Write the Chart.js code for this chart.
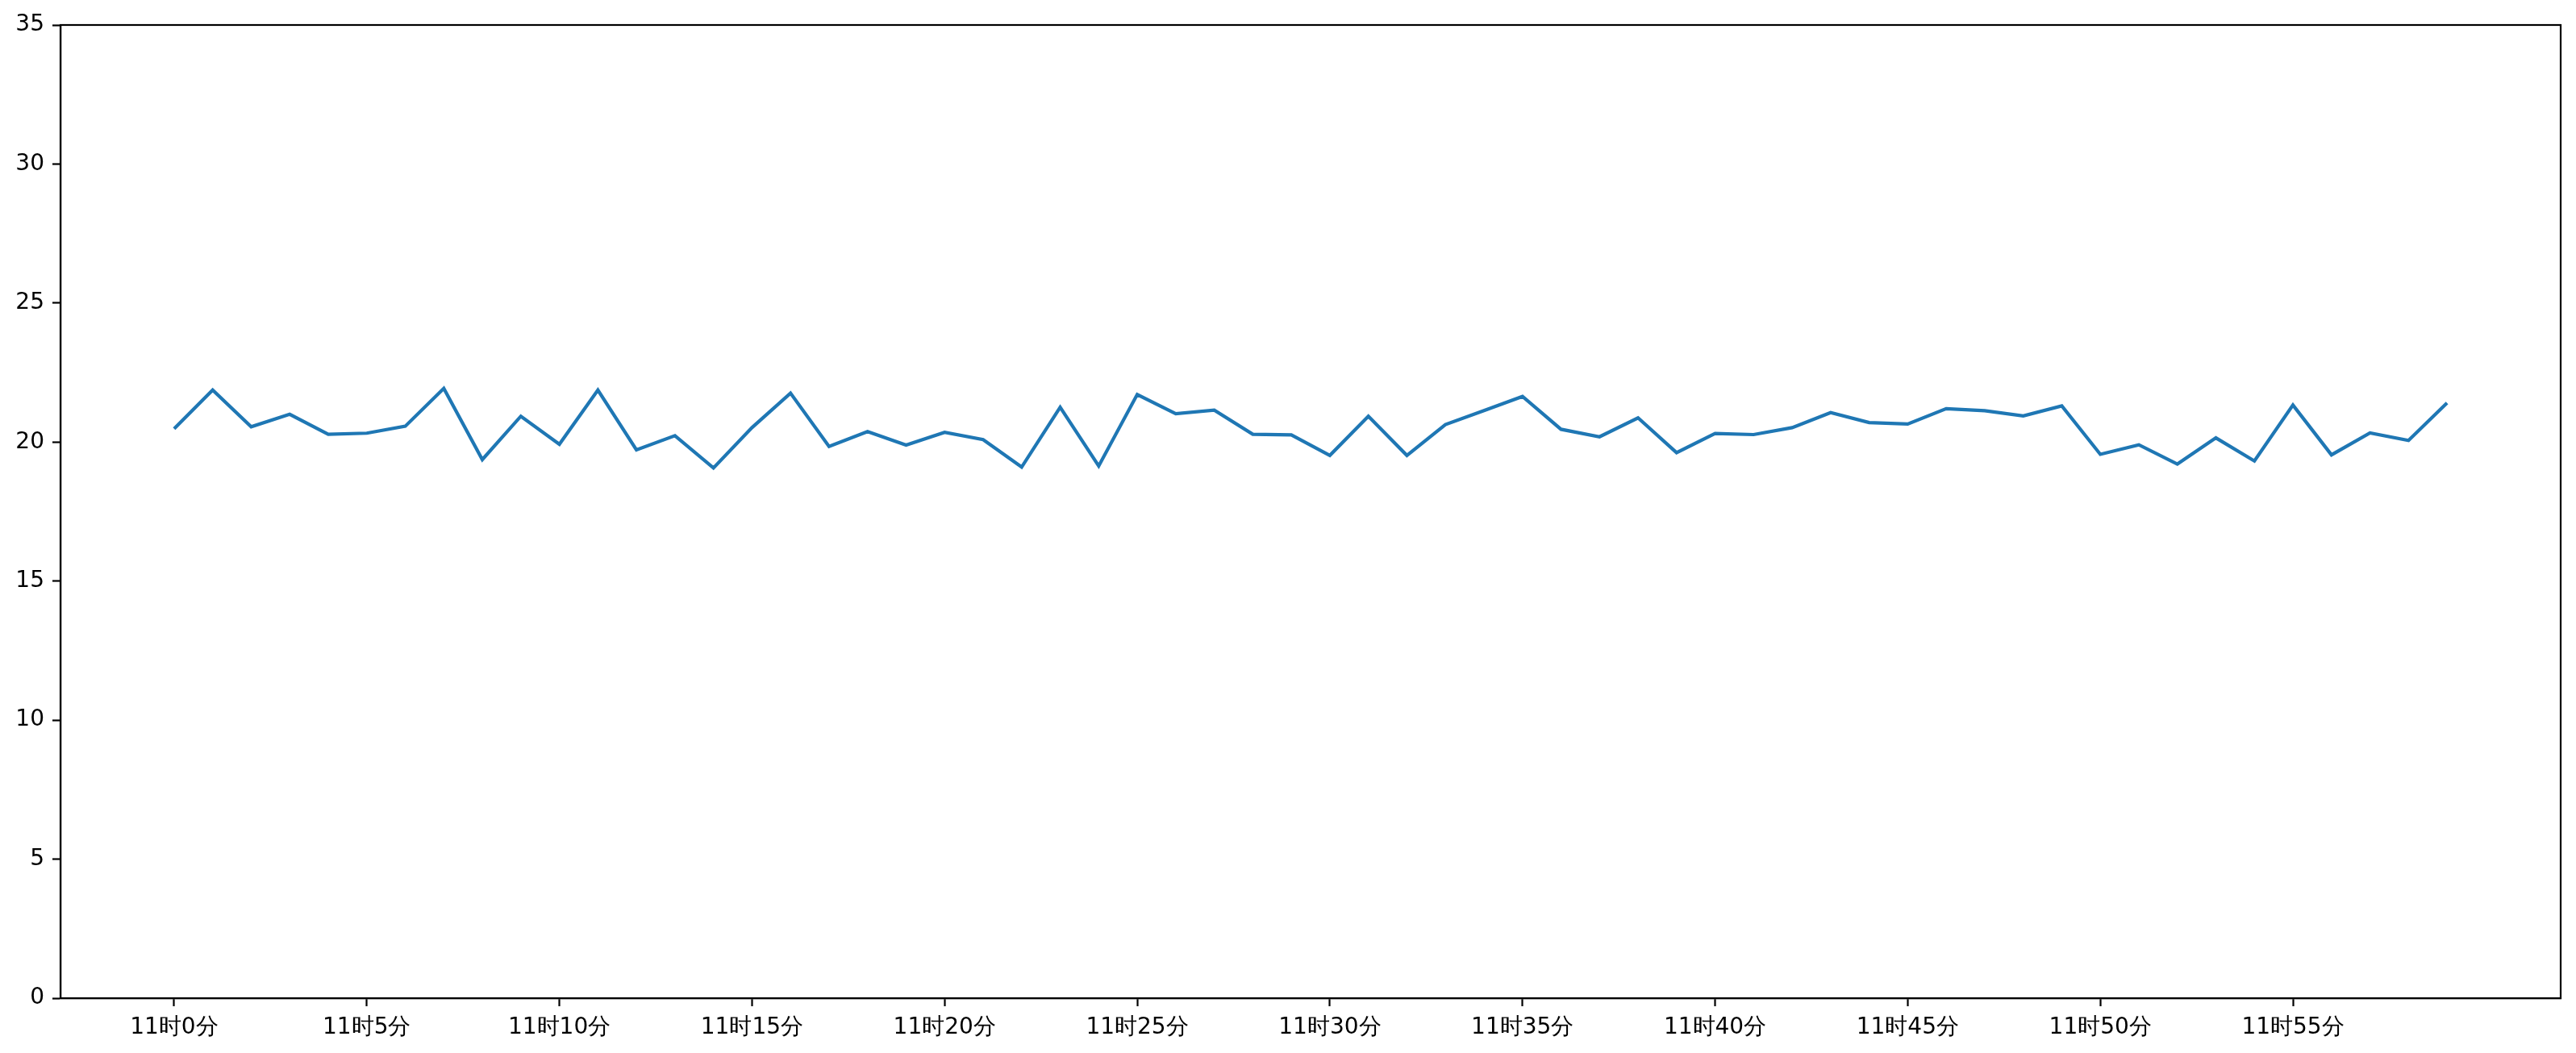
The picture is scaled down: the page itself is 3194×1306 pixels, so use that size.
<!DOCTYPE html>
<html>
<head>
<meta charset="utf-8">
<script src="https://cdn.jsdelivr.net/npm/chart.js@4"></script>
<style>
  html, body { margin: 0; padding: 0; background: #fff; }
  canvas { display: block; }
</style>
</head>
<body>
<canvas id="canvas" width="3194" height="1306"></canvas>
<script>
// minute labels, one per point
var minutes = [
  '11时0分', '11时1分', '11时2分', '11时3分', '11时4分', '11时5分', '11时6分', '11时7分', '11时8分', '11时9分',
  '11时10分', '11时11分', '11时12分', '11时13分', '11时14分', '11时15分', '11时16分', '11时17分', '11时18分', '11时19分',
  '11时20分', '11时21分', '11时22分', '11时23分', '11时24分', '11时25分', '11时26分', '11时27分', '11时28分', '11时29分',
  '11时30分', '11时31分', '11时32分', '11时33分', '11时34分', '11时35分', '11时36分', '11时37分', '11时38分', '11时39分',
  '11时40分', '11时41分', '11时42分', '11时43分', '11时44分', '11时45分', '11时46分', '11时47分', '11时48分', '11时49分',
  '11时50分', '11时51分', '11时52分', '11时53分', '11时54分', '11时55分', '11时56分', '11时57分', '11时58分', '11时59分'
];

// values
var values = [
  20.48, 21.87, 20.55, 21.00, 20.28, 20.32, 20.57, 21.93, 19.37, 20.93,
  19.92, 21.87, 19.72, 20.23, 19.07, 20.52, 21.76, 19.84, 20.38, 19.89,
  20.35, 20.09, 19.10, 21.25, 19.14, 21.71, 21.02, 21.15, 20.28, 20.26,
  19.52, 20.93, 19.52, 20.63, 21.13, 21.64, 20.46, 20.19, 20.87, 19.62,
  20.31, 20.27, 20.52, 21.06, 20.70, 20.65, 21.20, 21.13, 20.94, 21.30,
  19.56, 19.90, 19.21, 20.15, 19.32, 21.33, 19.54, 20.33, 20.06, 21.41
];

// x tick positions (index into minutes)
var xTicks = [0, 5, 10, 15, 20, 25, 30, 35, 40, 45, 50, 55];
var yTicks = [0, 5, 10, 15, 20, 25, 30, 35];

var points = values.map(function (v, i) { return { x: i, y: v }; });

// box round the plot area, like a matplotlib frame
var frame = {
  id: 'frame',
  afterDraw: function (chart) {
    var a = chart.chartArea, c = chart.ctx;
    c.save();
    c.strokeStyle = '#000';
    c.lineWidth = 2.2;
    c.strokeRect(a.left, a.top, a.right - a.left, a.bottom - a.top);
    c.restore();
  }
};

var pad = (values.length - 1) * 0.05;

new Chart(document.getElementById('canvas'), {
  type: 'line',
  data: {
    datasets: [{
      data: points,
      borderColor: '#1f77b4',
      borderWidth: 4.2,
      pointRadius: 0,
      tension: 0,
      fill: false
    }]
  },
  options: {
    responsive: false,
    animation: false,
    devicePixelRatio: 1,
    layout: { padding: { top: 31, right: 19, left: 0, bottom: 0 } },
    plugins: { legend: { display: false }, tooltip: { enabled: false } },
    scales: {
      x: {
        type: 'linear',
        min: -pad,
        max: values.length - 1 + pad,
        afterBuildTicks: function (scale) {
          scale.ticks = xTicks.map(function (v) { return { value: v }; });
        },
        afterFit: function (scale) { scale.height = 68; },
        grid: { drawOnChartArea: false, tickLength: 10, tickWidth: 2.2, tickColor: '#000' },
        border: { display: true, color: '#000', width: 2.2 },
        ticks: {
          autoSkip: false,
          maxRotation: 0,
          padding: 10,
          color: '#000',
          font: { family: 'DejaVu Sans', size: 28 },
          callback: function (value) { return minutes[value]; }
        }
      },
      y: {
        min: 0,
        max: 35,
        afterBuildTicks: function (scale) {
          scale.ticks = yTicks.map(function (v) { return { value: v }; });
        },
        afterFit: function (scale) { scale.width = 75; },
        grid: { drawOnChartArea: false, tickLength: 10, tickWidth: 2.2, tickColor: '#000' },
        border: { display: true, color: '#000', width: 2.2 },
        ticks: {
          padding: 10,
          color: '#000',
          font: { family: 'DejaVu Sans', size: 28 }
        }
      }
    }
  },
  plugins: [frame]
});
</script>
</body>
</html>
